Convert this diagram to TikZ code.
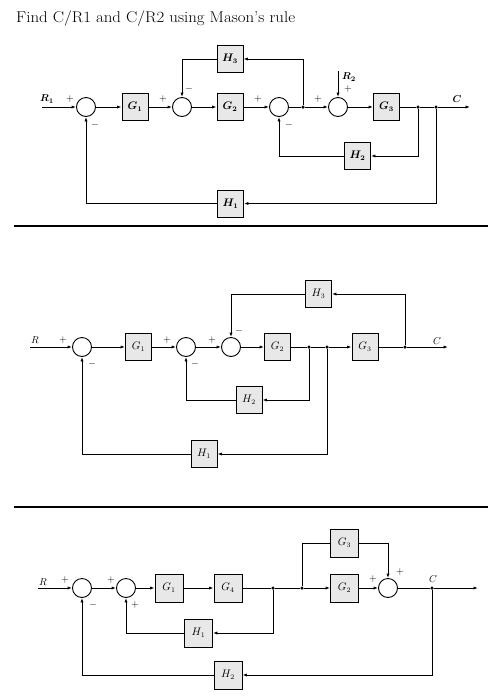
\documentclass[tikz,border=0pt]{standalone}
\usepackage{bm}
\usetikzlibrary{arrows.meta,shadows}
\begin{document}
\begin{tikzpicture}[x=1pt,y=-1pt,
 blk/.style={draw, line width=0.9pt, fill=gray!18, minimum width=26pt, minimum height=27pt, inner sep=0pt,
   font=\fontsize{10.5}{11}\selectfont,
   drop shadow={shadow xshift=0.9pt, shadow yshift=-0.9pt, fill=black!85, opacity=1}},
 blkb/.style={blk, minimum width=28pt, minimum height=28pt},
 sumc/.style={draw, circle, line width=0.9pt, minimum size=19pt, inner sep=0pt},
 jdot/.style={circle, fill, inner sep=0pt, minimum size=3.5pt},
 sig/.style={line width=0.9pt, -{Latex[length=4.5pt,width=3.2pt]}},
 ln/.style={line width=0.9pt},
 lbl/.style={font=\fontsize{10}{11}\selectfont, inner sep=0pt},
 sgn/.style={font=\fontsize{10}{11}\selectfont, inner sep=0pt},
 sep/.style={line width=1.1pt}
]
\useasboundingbox (0,0) rectangle (488,697);
% title
\node[anchor=base west, inner sep=0pt, font=\fontsize{15.6}{17}\selectfont] (title) at (16,22) {\scalebox{1.08}[1]{Find C/R1 and C/R2 using Mason's rule}};

% ================= Diagram 1 =================
\coordinate (a_in) at (42,107);
\node[sumc] (a_c1) at (86,107) {};
\node[blk] (a_G1) at (135,107) {$\bm{G_1}$};
\node[sumc] (a_c2) at (182,107) {};
\node[blk] (a_H3) at (230,59) {$\bm{H_3}$};
\node[blk] (a_G2) at (230,107) {$\bm{G_2}$};
\node[sumc] (a_c3) at (279,107) {};
\node[jdot] (a_j1) at (303,107) {};
\node[sumc] (a_c4) at (338,107) {};
\coordinate (a_r2) at (338,71);
\node[blk] (a_G3) at (386.5,107) {$\bm{G_3}$};
\node[jdot] (a_j2) at (418,107) {};
\node[jdot] (a_j3) at (436,107) {};
\coordinate (a_out) at (470,107);
\node[blk] (a_H2) at (357.5,156) {$\bm{H_2}$};
\node[blk] (a_H1) at (230.5,203.5) {$\bm{H_1}$};

\draw[sig] (a_in) -- (a_c1);
\draw[sig] (a_c1) -- (a_G1);
\draw[sig] (a_G1) -- (a_c2);
\draw[sig] (a_c2) -- (a_G2);
\draw[sig] (a_G2) -- (a_c3);
\draw[ln] (a_c3) -- (a_j1);
\draw[sig] (a_j1) -- (a_c4);
\draw[sig] (a_c4) -- (a_G3);
\draw[ln] (a_G3) -- (a_j2);
\draw[ln] (a_j2) -- (a_j3);
\draw[sig] (a_j3) -- (a_out);
\draw[sig] (a_r2) -- (a_c4.north);
\draw[sig] (a_j1) |- (a_H3.east);
\draw[sig] (a_H3.west) -| (a_c2.north);
\draw[sig] (a_j2) |- (a_H2.east);
\draw[sig] (a_H2.west) -| (a_c3.south);
\draw[sig] (a_j3) |- (a_H1.east);
\draw[sig] (a_H1.west) -| (a_c1.south);

\node[lbl] (a_lR1) at (47,99) {$\bm{R_1}$};
\node[sgn] (a_p1) at (70,99) {$+$};
\node[sgn] (a_m1) at (95,125) {$-$};
\node[sgn] (a_p2) at (163,99) {$+$};
\node[sgn] (a_m2) at (189,89) {$-$};
\node[sgn] (a_p3) at (258,99) {$+$};
\node[sgn] (a_m3) at (289,125) {$-$};
\node[sgn] (a_p4) at (318,99) {$+$};
\node[lbl] (a_lR2) at (349,77) {$\bm{R_2}$};
\node[sgn] (a_p5) at (348,89) {$+$};
\node[lbl] (a_lC) at (457,99) {$\bm{C}$};

\draw[sep] (14,226) -- (488,226);

% ================= Diagram 2 =================
\coordinate (b_in) at (30,347);
\node[sumc] (b_c1) at (82,347) {};
\node[blk] (b_G1) at (138.5,347) {$G_1$};
\node[sumc] (b_c2) at (186,347) {};
\node[sumc] (b_c3) at (231,347) {};
\node[blk] (b_G2) at (277.5,347) {$G_2$};
\node[jdot] (b_j1) at (309,347) {};
\node[jdot] (b_j2) at (327,347) {};
\node[blk] (b_G3) at (365,347) {$G_3$};
\node[jdot] (b_j3) at (405,347) {};
\coordinate (b_out) at (448,347);
\node[blk] (b_H3) at (318.5,294) {$H_3$};
\node[blk] (b_H2) at (249,400) {$H_2$};
\node[blk] (b_H1) at (204,454) {$H_1$};

\draw[sig] (b_in) -- (b_c1);
\draw[sig] (b_c1) -- (b_G1);
\draw[sig] (b_G1) -- (b_c2);
\draw[sig] (b_c2) -- (b_c3);
\draw[sig] (b_c3) -- (b_G2);
\draw[ln] (b_G2) -- (b_j1);
\draw[ln] (b_j1) -- (b_j2);
\draw[sig] (b_j2) -- (b_G3);
\draw[ln] (b_G3) -- (b_j3);
\draw[sig] (b_j3) -- (b_out);
\draw[sig] (b_j3) |- (b_H3.east);
\draw[sig] (b_H3.west) -| (b_c3.north);
\draw[sig] (b_j1) |- (b_H2.east);
\draw[sig] (b_H2.west) -| (b_c2.south);
\draw[sig] (b_j2) |- (b_H1.east);
\draw[sig] (b_H1.west) -| (b_c1.south);

\node[lbl] (b_lR) at (35,340) {$R$};
\node[sgn] (b_p1) at (63,340) {$+$};
\node[sgn] (b_m1) at (92,364) {$-$};
\node[sgn] (b_p2) at (167,340) {$+$};
\node[sgn] (b_m2) at (195,364) {$-$};
\node[sgn] (b_p3) at (212,340) {$+$};
\node[sgn] (b_m3) at (239,331) {$-$};
\node[lbl] (b_lC) at (437,341) {$C$};

\draw[sep] (14,507) -- (488,507);

% ================= Diagram 3 =================
\coordinate (c_in) at (38,588);
\node[sumc] (c_c1) at (82,588) {};
\node[sumc] (c_c2) at (126,588) {};
\node[blkb] (c_G1) at (169,588) {$G_1$};
\node[blkb] (c_G4) at (228,588) {$G_4$};
\node[jdot] (c_j1) at (273,588) {};
\node[jdot] (c_j2) at (302,588) {};
\node[blkb] (c_G2) at (344.5,588) {$G_2$};
\node[blkb] (c_G3) at (344.5,543) {$G_3$};
\node[sumc] (c_c3) at (388,588) {};
\node[jdot] (c_jC) at (432,588) {};
\coordinate (c_out) at (478,588);
\node[blkb] (c_H1) at (198.5,633) {$H_1$};
\node[blkb] (c_H2) at (228,675) {$H_2$};

\draw[sig] (c_in) -- (c_c1);
\draw[sig] (c_c1) -- (c_c2);
\draw[sig] (c_c2) -- (c_G1);
\draw[sig] (c_G1) -- (c_G4);
\draw[ln] (c_G4) -- (c_j1);
\draw[ln] (c_j1) -- (c_j2);
\draw[sig] (c_j2) -- (c_G2);
\draw[sig] (c_G2) -- (c_c3);
\draw[ln] (c_c3) -- (c_jC);
\draw[sig] (c_jC) -- (c_out);
\draw[ln] (c_j2) |- (c_G3.west);
\draw[sig] (c_G3.east) -| (c_c3.north);
\draw[sig] (c_j1) |- (c_H1.east);
\draw[sig] (c_H1.west) -| (c_c2.south);
\draw[sig] (c_jC) |- (c_H2.east);
\draw[sig] (c_H2.west) -| (c_c1.south);

\node[lbl] (c_lR) at (43,582) {$R$};
\node[sgn] (c_p1) at (65,580) {$+$};
\node[sgn] (c_m1) at (93,605) {$-$};
\node[sgn] (c_p2) at (111,580) {$+$};
\node[sgn] (c_p3) at (135,605) {$+$};
\node[sgn] (c_p4) at (373,579) {$+$};
\node[sgn] (c_p5) at (400,572) {$+$};
\node[lbl] (c_lC) at (433,579) {$C$};
\end{tikzpicture}
\end{document}
